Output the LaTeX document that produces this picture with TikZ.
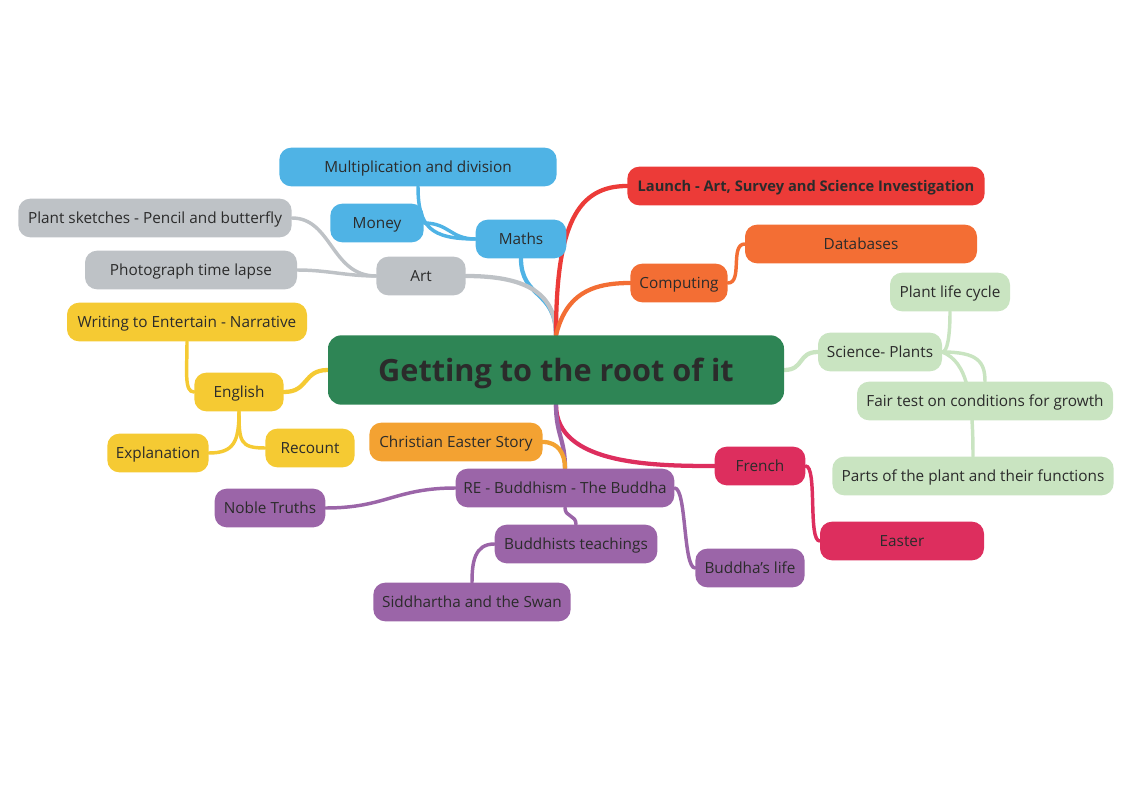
\documentclass[tikz,border=0pt]{standalone}
\usepackage{fontspec}
\setmainfont{Open Sans}
\usetikzlibrary{backgrounds}

\definecolor{rootgreen}{HTML}{2E8555}
\definecolor{mathsblue}{HTML}{4FB3E5}
\definecolor{artgray}{HTML}{BEC2C6}
\definecolor{launchred}{HTML}{EC3B38}
\definecolor{comporange}{HTML}{F36E34}
\definecolor{scigreen}{HTML}{C9E4C1}
\definecolor{engyellow}{HTML}{F5CA33}
\definecolor{storyorange}{HTML}{F3A232}
\definecolor{repurple}{HTML}{9B65A8}
\definecolor{frenchred}{HTML}{DD2E5E}
\definecolor{inktext}{HTML}{2B2B2B}

\begin{document}
\begin{tikzpicture}[
    x=0.75pt, y=-0.75pt,
    font=\fontsize{11.5}{13}\selectfont,
    topic/.style={rectangle, rounded corners=9pt, minimum height=29pt, inner sep=2pt, text=inktext, align=center,
                  text depth=0.5pt},
    branch/.style={line width=3.2pt, line cap=round},
    twig/.style={line width=2.6pt, line cap=round},
  ]
    \useasboundingbox (0,0) rectangle (1124,795);

    % centre
    \node[topic, fill=rootgreen, minimum width=342pt, minimum height=52pt, rounded corners=10pt,
          font=\fontsize{23}{27}\selectfont\bfseries] (root) at (556,370) {Getting to the root of it};

    % maths and art
    \node[topic, fill=mathsblue, minimum width=208pt] (mult) at (418,167) {Multiplication and division};
    \node[topic, fill=mathsblue, minimum width=70pt] (money) at (377,223) {Money};
    \node[topic, fill=mathsblue, minimum width=68pt] (maths) at (521,239) {Maths};
    \node[topic, fill=artgray, minimum width=205pt] (sketch) at (155,218) {Plant sketches - Pencil and butterfly};
    \node[topic, fill=artgray, minimum width=159pt] (photo) at (191,270) {Photograph time lapse};
    \node[topic, fill=artgray, minimum width=67pt] (art) at (421,276) {Art};

    % launch and computing
    \node[topic, fill=launchred, minimum width=268pt, font=\fontsize{11}{13}\selectfont\bfseries] (launch) at (806,186) {Launch - Art, Survey and Science Investigation};
    \node[topic, fill=comporange, minimum width=174pt] (db) at (861,244) {Databases};
    \node[topic, fill=comporange, minimum width=73pt] (comp) at (679,283) {Computing};

    % science
    \node[topic, fill=scigreen, minimum width=90pt] (cycle) at (950,292) {Plant life cycle};
    \node[topic, fill=scigreen, minimum width=93pt] (sci) at (880,352) {Science- Plants};
    \node[topic, fill=scigreen, minimum width=192pt] (fair) at (985,401) {Fair test on conditions for growth};
    \node[topic, fill=scigreen, minimum width=211pt] (parts) at (973,476) {Parts of the plant and their functions};

    % english
    \node[topic, fill=engyellow, minimum width=180pt] (writing) at (187,322) {Writing to Entertain - Narrative};
    \node[topic, fill=engyellow, minimum width=67pt] (eng) at (239,392) {English};
    \node[topic, fill=engyellow, minimum width=76pt] (expl) at (158,453) {Explanation};
    \node[topic, fill=engyellow, minimum width=67pt] (recount) at (310,448) {Recount};

    % RE
    \node[topic, fill=storyorange, minimum width=130pt] (story) at (456,442) {Christian Easter Story};
    \node[topic, fill=repurple, minimum width=164pt] (re) at (565,488) {RE - Buddhism - The Buddha};
    \node[topic, fill=repurple, minimum width=83pt] (noble) at (270,508) {Noble Truths};
    \node[topic, fill=repurple, minimum width=122pt] (teach) at (576,544) {Buddhists teachings};
    \node[topic, fill=repurple, minimum width=148pt] (swan) at (472,602) {Siddhartha and the Swan};
    \node[topic, fill=repurple, minimum width=82pt] (life) at (750,568) {Buddha's life};

    % french
    \node[topic, fill=frenchred, minimum width=68pt] (french) at (760,466) {French};
    \node[topic, fill=frenchred, minimum width=123pt] (easter) at (902,541) {Easter};

    \begin{scope}[on background layer]
      \draw[branch, mathsblue] (root.north) .. controls +(0,-45) and +(0,40) .. (maths.south);
      \draw[twig, mathsblue] (maths.west) .. controls +(-45,0) and +(0,40) .. (mult.south);
      \draw[twig, mathsblue] (maths.west) .. controls +(-25,0) and +(25,0) .. (money.east);

      \draw[branch, artgray] (root.north) .. controls +(0,-45) and +(55,0) .. (art.east);
      \draw[twig, artgray] (art.west) .. controls +(-45,0) and +(40,0) .. (sketch.east);
      \draw[twig, artgray] (art.west) .. controls +(-30,0) and +(30,0) .. (photo.east);

      \draw[branch, launchred] (root.north) .. controls +(0,-110) and +(-50,0) .. (launch.west);
      \draw[branch, comporange] (root.north) .. controls +(10,-40) and +(-40,0) .. (comp.west);
      \draw[twig, comporange] (comp.east) .. controls +(15,0) and +(-15,0) .. (db.west);

      \draw[branch, scigreen] (root.east) .. controls +(20,0) and +(-20,0) .. (sci.west);
      \draw[twig, scigreen] (sci.east) .. controls +(5,0) and +(0,25) .. (cycle.south);
      \draw[twig, scigreen] (sci.east) .. controls +(35,0) and +(0,-20) .. (fair.north);
      \draw[twig, scigreen] (sci.east) .. controls +(25,10) and +(0,-60) .. (parts.north);

      \draw[branch, engyellow] (root.west) .. controls +(-25,0) and +(25,0) .. (eng.east);
      \draw[twig, engyellow] (eng.west) .. controls +(-10,0) and +(0,30) .. (writing.south);
      \draw[twig, engyellow] (eng.south) .. controls +(0,30) and +(25,0) .. (expl.east);
      \draw[twig, engyellow] (eng.south) .. controls +(0,30) and +(-25,0) .. (recount.west);

      \draw[branch, frenchred] (root.south) .. controls +(0,60) and +(-60,0) .. (french.west);
      \draw[twig, frenchred] (french.east) .. controls +(12,0) and +(-12,0) .. (easter.west);

      \draw[branch, repurple] (root.south) .. controls +(0,30) and +(0,-30) .. (re.north);
      \draw[branch, storyorange] (story.east) .. controls +(15,0) and +(0,-15) .. (re.north);
      \draw[twig, repurple] (re.west) .. controls +(-60,0) and +(60,0) .. (noble.east);
      \draw[twig, repurple] (re.south) .. controls +(0,10) and +(0,-10) .. (teach.north);
      \draw[twig, repurple] (teach.west) .. controls +(-20,0) and +(0,-20) .. (swan.north);
      \draw[twig, repurple] (re.east) .. controls +(12,0) and +(-12,0) .. (life.west);
    \end{scope}
  \end{tikzpicture}
\end{document}
